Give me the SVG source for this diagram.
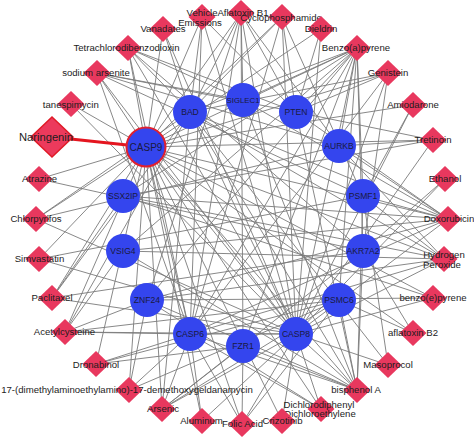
<svg xmlns="http://www.w3.org/2000/svg" xmlns:xlink="http://www.w3.org/1999/xlink" width="474" height="438" viewBox="0 0 474 438">
<style>
.e line{stroke:#7a7a7a;stroke-width:0.9}
.chem{fill:#E8385E}
.gene{fill:#3445EE}
.t{font-family:"Liberation Sans",Arial,sans-serif;font-size:9.6px;fill:#1c1c1c;text-anchor:middle}
.g{font-family:"Liberation Sans",Arial,sans-serif;font-size:8.6px;fill:#1a1a40;text-anchor:middle}
</style>
<defs>
<path id="dia" d="M0,-13L13.5,0L0,13L-13.5,0Z"/>
</defs>
<rect width="474" height="438" fill="#ffffff"/>
<g id="connectors" class="e">
<!-- Vehicle Emissions -->
<line x1="202" y1="17" x2="146" y2="147"/><line x1="202" y1="17" x2="190" y2="112"/><line x1="202" y1="17" x2="296" y2="112"/><line x1="202" y1="17" x2="296" y2="334"/><line x1="202" y1="17" x2="190" y2="334"/>
<!-- Aflatoxin B1 -->
<line x1="241" y1="13" x2="146" y2="147"/><line x1="241" y1="13" x2="190" y2="112"/><line x1="241" y1="13" x2="243" y2="100"/><line x1="241" y1="13" x2="296" y2="112"/><line x1="241" y1="13" x2="339" y2="146"/><line x1="241" y1="13" x2="296" y2="334"/><line x1="241" y1="13" x2="190" y2="334"/><line x1="241" y1="13" x2="147" y2="300"/><line x1="241" y1="13" x2="243" y2="346"/>
<!-- Cyclophosphamide -->
<line x1="282" y1="17" x2="146" y2="147"/><line x1="282" y1="17" x2="190" y2="112"/><line x1="282" y1="17" x2="296" y2="112"/><line x1="282" y1="17" x2="296" y2="334"/><line x1="282" y1="17" x2="363" y2="196"/><line x1="282" y1="17" x2="190" y2="334"/>
<!-- Dieldrin -->
<line x1="321" y1="29" x2="296" y2="112"/><line x1="321" y1="29" x2="146" y2="147"/><line x1="321" y1="29" x2="296" y2="334"/>
<!-- Benzo(a)pyrene -->
<line x1="357" y1="48" x2="146" y2="147"/><line x1="357" y1="48" x2="190" y2="112"/><line x1="357" y1="48" x2="243" y2="100"/><line x1="357" y1="48" x2="296" y2="112"/><line x1="357" y1="48" x2="339" y2="146"/><line x1="357" y1="48" x2="363" y2="196"/><line x1="357" y1="48" x2="363" y2="251"/><line x1="357" y1="48" x2="296" y2="334"/><line x1="357" y1="48" x2="190" y2="334"/><line x1="357" y1="48" x2="123" y2="196"/><line x1="357" y1="48" x2="123" y2="251"/><line x1="357" y1="48" x2="147" y2="300"/><line x1="357" y1="48" x2="339" y2="300"/><line x1="357" y1="48" x2="243" y2="346"/>
<!-- Genistein -->
<line x1="388" y1="73" x2="296" y2="112"/><line x1="388" y1="73" x2="146" y2="147"/><line x1="388" y1="73" x2="296" y2="334"/><line x1="388" y1="73" x2="190" y2="112"/><line x1="388" y1="73" x2="363" y2="251"/><line x1="388" y1="73" x2="190" y2="334"/>
<!-- Amiodarone -->
<line x1="413" y1="105" x2="146" y2="147"/><line x1="413" y1="105" x2="296" y2="334"/><line x1="413" y1="105" x2="363" y2="196"/>
<!-- Tretinoin -->
<line x1="433" y1="140" x2="146" y2="147"/><line x1="433" y1="140" x2="123" y2="196"/><line x1="433" y1="140" x2="296" y2="112"/><line x1="433" y1="140" x2="296" y2="334"/><line x1="433" y1="140" x2="339" y2="146"/>
<!-- Ethanol -->
<line x1="445" y1="179" x2="296" y2="334"/><line x1="445" y1="179" x2="363" y2="251"/>
<!-- Doxorubicin -->
<line x1="448" y1="219" x2="146" y2="147"/><line x1="448" y1="219" x2="339" y2="146"/><line x1="448" y1="219" x2="363" y2="196"/><line x1="448" y1="219" x2="190" y2="112"/><line x1="448" y1="219" x2="243" y2="100"/><line x1="448" y1="219" x2="296" y2="334"/><line x1="448" y1="219" x2="190" y2="334"/><line x1="448" y1="219" x2="147" y2="300"/><line x1="448" y1="219" x2="123" y2="196"/><line x1="448" y1="219" x2="296" y2="112"/><line x1="448" y1="219" x2="123" y2="251"/>
<!-- Hydrogen Peroxide -->
<line x1="444" y1="259" x2="146" y2="147"/><line x1="444" y1="259" x2="190" y2="112"/><line x1="444" y1="259" x2="339" y2="146"/><line x1="444" y1="259" x2="363" y2="196"/><line x1="444" y1="259" x2="296" y2="334"/><line x1="444" y1="259" x2="190" y2="334"/><line x1="444" y1="259" x2="123" y2="251"/><line x1="444" y1="259" x2="147" y2="300"/><line x1="444" y1="259" x2="123" y2="196"/>
<!-- benzo(e)pyrene -->
<line x1="433" y1="298" x2="296" y2="334"/><line x1="433" y1="298" x2="123" y2="196"/><line x1="433" y1="298" x2="146" y2="147"/><line x1="433" y1="298" x2="147" y2="300"/>
<!-- aflatoxin B2 -->
<line x1="413" y1="333" x2="146" y2="147"/><line x1="413" y1="333" x2="339" y2="300"/><line x1="413" y1="333" x2="363" y2="251"/>
<!-- Masoprocol -->
<line x1="388" y1="365" x2="296" y2="334"/><line x1="388" y1="365" x2="190" y2="112"/><line x1="388" y1="365" x2="363" y2="196"/>
<!-- bisphenol A -->
<line x1="357" y1="390" x2="146" y2="147"/><line x1="357" y1="390" x2="296" y2="334"/><line x1="357" y1="390" x2="339" y2="300"/><line x1="357" y1="390" x2="363" y2="251"/><line x1="357" y1="390" x2="243" y2="346"/><line x1="357" y1="390" x2="190" y2="334"/><line x1="357" y1="390" x2="190" y2="112"/><line x1="357" y1="390" x2="296" y2="112"/><line x1="357" y1="390" x2="243" y2="100"/><line x1="357" y1="390" x2="147" y2="300"/><line x1="357" y1="390" x2="123" y2="251"/><line x1="357" y1="390" x2="363" y2="196"/>
<!-- DDE -->
<line x1="321" y1="409" x2="296" y2="334"/><line x1="321" y1="409" x2="190" y2="334"/><line x1="321" y1="409" x2="146" y2="147"/><line x1="321" y1="409" x2="147" y2="300"/>
<!-- Crizotinib -->
<line x1="282" y1="421" x2="296" y2="334"/><line x1="282" y1="421" x2="146" y2="147"/>
<!-- Folic Acid -->
<line x1="242" y1="424" x2="296" y2="334"/><line x1="242" y1="424" x2="190" y2="334"/><line x1="242" y1="424" x2="146" y2="147"/><line x1="242" y1="424" x2="243" y2="346"/><line x1="242" y1="424" x2="339" y2="300"/>
<!-- Aluminum -->
<line x1="202" y1="421" x2="296" y2="334"/><line x1="202" y1="421" x2="190" y2="334"/><line x1="202" y1="421" x2="146" y2="147"/>
<!-- Arsenic -->
<line x1="162" y1="409" x2="296" y2="334"/><line x1="162" y1="409" x2="190" y2="334"/><line x1="162" y1="409" x2="146" y2="147"/><line x1="162" y1="409" x2="190" y2="112"/><line x1="162" y1="409" x2="339" y2="300"/><line x1="162" y1="409" x2="243" y2="346"/><line x1="162" y1="409" x2="363" y2="251"/>
<!-- 17-DMAG -->
<line x1="129" y1="390" x2="190" y2="334"/><line x1="129" y1="390" x2="147" y2="300"/><line x1="129" y1="390" x2="339" y2="300"/><line x1="129" y1="390" x2="146" y2="147"/>
<!-- Dronabinol -->
<line x1="96" y1="364" x2="190" y2="334"/><line x1="96" y1="364" x2="146" y2="147"/><line x1="96" y1="364" x2="243" y2="346"/><line x1="96" y1="364" x2="339" y2="300"/>
<!-- Acetylcysteine -->
<line x1="65" y1="332" x2="146" y2="147"/><line x1="65" y1="332" x2="190" y2="334"/><line x1="65" y1="332" x2="296" y2="334"/><line x1="65" y1="332" x2="190" y2="112"/><line x1="65" y1="332" x2="147" y2="300"/><line x1="65" y1="332" x2="123" y2="251"/><line x1="65" y1="332" x2="339" y2="300"/>
<!-- Paclitaxel -->
<line x1="52" y1="298" x2="146" y2="147"/><line x1="52" y1="298" x2="296" y2="334"/><line x1="52" y1="298" x2="190" y2="112"/><line x1="52" y1="298" x2="363" y2="251"/><line x1="52" y1="298" x2="123" y2="196"/>
<!-- Simvastatin -->
<line x1="39" y1="259" x2="146" y2="147"/><line x1="39" y1="259" x2="296" y2="334"/><line x1="39" y1="259" x2="363" y2="196"/>
<!-- Chlorpyrifos -->
<line x1="36" y1="219" x2="146" y2="147"/><line x1="36" y1="219" x2="190" y2="112"/><line x1="36" y1="219" x2="339" y2="146"/><line x1="36" y1="219" x2="296" y2="334"/>
<!-- Atrazine -->
<line x1="39" y1="179" x2="146" y2="147"/><line x1="39" y1="179" x2="363" y2="251"/>
<!-- tanespimycin -->
<line x1="71" y1="104" x2="146" y2="147"/><line x1="71" y1="104" x2="296" y2="334"/>
<!-- sodium arsenite -->
<line x1="97" y1="73" x2="146" y2="147"/><line x1="97" y1="73" x2="243" y2="100"/><line x1="97" y1="73" x2="296" y2="112"/><line x1="97" y1="73" x2="339" y2="146"/><line x1="97" y1="73" x2="363" y2="196"/><line x1="97" y1="73" x2="296" y2="334"/><line x1="97" y1="73" x2="190" y2="334"/>
<!-- Tetrachlorodibenzodioxin -->
<line x1="128" y1="48" x2="146" y2="147"/><line x1="128" y1="48" x2="190" y2="112"/><line x1="128" y1="48" x2="243" y2="100"/><line x1="128" y1="48" x2="296" y2="112"/><line x1="128" y1="48" x2="296" y2="334"/><line x1="128" y1="48" x2="190" y2="334"/><line x1="128" y1="48" x2="363" y2="251"/>
<!-- Vanadates -->
<line x1="163" y1="29" x2="146" y2="147"/><line x1="163" y1="29" x2="190" y2="112"/><line x1="163" y1="29" x2="296" y2="334"/>
<!-- gene-gene -->
<line x1="146" y1="147" x2="296" y2="334"/><line x1="146" y1="147" x2="190" y2="334"/><line x1="190" y1="334" x2="296" y2="334"/><line x1="190" y1="112" x2="296" y2="334"/>
<!-- Naringenin - CASP9 -->
<line x1="52" y1="137" x2="146" y2="147" style="stroke:#E4151F;stroke-width:3"/>
</g>

<g id="n-vehicle"><use href="#dia" class="chem" transform="translate(202,17)"/><text class="t" x="202" y="13" dy="0.35em">Vehicle</text><text class="t" x="200" y="23" dy="0.35em">Emissions</text></g>
<g id="n-aflatoxinb1"><use href="#dia" class="chem" transform="translate(241,13)"/><text class="t" x="243" y="13" dy="0.35em">Aflatoxin B1</text></g>
<g id="n-cyclophosphamide"><use href="#dia" class="chem" transform="translate(282,17)"/><text class="t" x="281" y="17.5" dy="0.35em">Cyclophosphamide</text></g>
<g id="n-dieldrin"><use href="#dia" class="chem" transform="translate(321,29)"/><text class="t" x="321" y="29" dy="0.35em">Dieldrin</text></g>
<g id="n-benzoapyrene"><use href="#dia" class="chem" transform="translate(357,48)"/><text class="t" x="356" y="48" dy="0.35em">Benzo(a)pyrene</text></g>
<g id="n-genistein"><use href="#dia" class="chem" transform="translate(388,73)"/><text class="t" x="388" y="73" dy="0.35em">Genistein</text></g>
<g id="n-amiodarone"><use href="#dia" class="chem" transform="translate(413,105)"/><text class="t" x="413" y="105" dy="0.35em">Amiodarone</text></g>
<g id="n-tretinoin"><use href="#dia" class="chem" transform="translate(433,140)"/><text class="t" x="433" y="140" dy="0.35em">Tretinoin</text></g>
<g id="n-ethanol"><use href="#dia" class="chem" transform="translate(445,179)"/><text class="t" x="445" y="179" dy="0.35em">Ethanol</text></g>
<g id="n-doxorubicin"><use href="#dia" class="chem" transform="translate(448,219)"/><text class="t" x="449" y="219" dy="0.35em">Doxorubicin</text></g>
<g id="n-hydrogenperoxide"><use href="#dia" class="chem" transform="translate(444,259)"/><text class="t" x="444" y="254.5" dy="0.35em">Hydrogen</text><text class="t" x="442" y="264.5" dy="0.35em">Peroxide</text></g>
<g id="n-benzoepyrene"><use href="#dia" class="chem" transform="translate(433,298)"/><text class="t" x="433" y="298" dy="0.35em">benzo(e)pyrene</text></g>
<g id="n-aflatoxinb2"><use href="#dia" class="chem" transform="translate(413,333)"/><text class="t" x="413" y="333" dy="0.35em">aflatoxin B2</text></g>
<g id="n-masoprocol"><use href="#dia" class="chem" transform="translate(388,365)"/><text class="t" x="388" y="365" dy="0.35em">Masoprocol</text></g>
<g id="n-bisphenola"><use href="#dia" class="chem" transform="translate(357,390)"/><text class="t" x="356" y="390" dy="0.35em">bisphenol A</text></g>
<g id="n-dde"><use href="#dia" class="chem" transform="translate(321,409)"/><text class="t" x="319" y="404.5" dy="0.35em">Dichlorodiphenyl</text><text class="t" x="320" y="414" dy="0.35em">Dichloroethylene</text></g>
<g id="n-crizotinib"><use href="#dia" class="chem" transform="translate(282,421)"/><text class="t" x="282.5" y="421" dy="0.35em">Crizotinib</text></g>
<g id="n-folicacid"><use href="#dia" class="chem" transform="translate(242,424)"/><text class="t" x="242.5" y="424" dy="0.35em">Folic Acid</text></g>
<g id="n-aluminum"><use href="#dia" class="chem" transform="translate(202,421)"/><text class="t" x="201.5" y="421" dy="0.35em">Aluminum</text></g>
<g id="n-arsenic"><use href="#dia" class="chem" transform="translate(162,409)"/><text class="t" x="163" y="409" dy="0.35em">Arsenic</text></g>
<g id="n-17dmag"><use href="#dia" class="chem" transform="translate(129,390)"/><text class="t" x="127" y="390" dy="0.35em">17-(dimethylaminoethylamino)-17-demethoxygeldanamycin</text></g>
<g id="n-dronabinol"><use href="#dia" class="chem" transform="translate(96,364)"/><text class="t" x="96" y="364.5" dy="0.35em">Dronabinol</text></g>
<g id="n-acetylcysteine"><use href="#dia" class="chem" transform="translate(65,332)"/><text class="t" x="64.5" y="332" dy="0.35em">Acetylcysteine</text></g>
<g id="n-paclitaxel"><use href="#dia" class="chem" transform="translate(52,298)"/><text class="t" x="52" y="298" dy="0.35em">Paclitaxel</text></g>
<g id="n-simvastatin"><use href="#dia" class="chem" transform="translate(39,259)"/><text class="t" x="39.5" y="259" dy="0.35em">Simvastatin</text></g>
<g id="n-chlorpyrifos"><use href="#dia" class="chem" transform="translate(36,219)"/><text class="t" x="36" y="219" dy="0.35em">Chlorpyrifos</text></g>
<g id="n-atrazine"><use href="#dia" class="chem" transform="translate(39,179)"/><text class="t" x="39.5" y="179" dy="0.35em">Atrazine</text></g>
<g id="n-tanespimycin"><use href="#dia" class="chem" transform="translate(71,104)"/><text class="t" x="70.8" y="105" dy="0.35em">tanespimycin</text></g>
<g id="n-sodiumarsenite"><use href="#dia" class="chem" transform="translate(97,73)"/><text class="t" x="96" y="73" dy="0.35em">sodium arsenite</text></g>
<g id="n-tcdd"><use href="#dia" class="chem" transform="translate(128,48)"/><text class="t" x="126.5" y="48" dy="0.35em">Tetrachlorodibenzodioxin</text></g>
<g id="n-vanadates"><use href="#dia" class="chem" transform="translate(163,29)"/><text class="t" x="163" y="29" dy="0.35em">Vanadates</text></g>
<g id="n-naringenin"><path d="M52,117L73,137L52,157L31,137Z" fill="#EC3A5C" stroke="#E01A26" stroke-width="1.5"/><text class="t" x="46" y="137" dy="0.35em" style="font-size:11.2px">Naringenin</text></g>

<g id="g-casp9"><circle cx="146" cy="147" r="19.5" class="gene" stroke="#E0202E" stroke-width="2"/><text class="g" x="146" y="147" dy="0.35em" style="font-size:10px">CASP9</text></g>
<g id="g-bad"><circle cx="190" cy="112" r="17" class="gene"/><text class="g" x="190" y="112" dy="0.35em">BAD</text></g>
<g id="g-siglec1"><circle cx="243" cy="100" r="17" class="gene"/><text class="g" x="243" y="100" dy="0.35em" style="font-size:7.8px">SIGLEC1</text></g>
<g id="g-pten"><circle cx="296" cy="112" r="17" class="gene"/><text class="g" x="296" y="112" dy="0.35em">PTEN</text></g>
<g id="g-aurkb"><circle cx="339" cy="146" r="17" class="gene"/><text class="g" x="339" y="146" dy="0.35em">AURKB</text></g>
<g id="g-psmf1"><circle cx="363" cy="196" r="17" class="gene"/><text class="g" x="363" y="196" dy="0.35em">PSMF1</text></g>
<g id="g-akr7a2"><circle cx="363" cy="251" r="17" class="gene"/><text class="g" x="363" y="251" dy="0.35em">AKR7A2</text></g>
<g id="g-psmc6"><circle cx="339" cy="300" r="17" class="gene"/><text class="g" x="339" y="300" dy="0.35em">PSMC6</text></g>
<g id="g-casp8"><circle cx="296" cy="334" r="17" class="gene"/><text class="g" x="296" y="334" dy="0.35em">CASP8</text></g>
<g id="g-fzr1"><circle cx="243" cy="346" r="17" class="gene"/><text class="g" x="243" y="346" dy="0.35em">FZR1</text></g>
<g id="g-casp6"><circle cx="190" cy="334" r="17" class="gene"/><text class="g" x="190" y="334" dy="0.35em">CASP6</text></g>
<g id="g-znf24"><circle cx="147" cy="300" r="17" class="gene"/><text class="g" x="147" y="300" dy="0.35em">ZNF24</text></g>
<g id="g-vsig4"><circle cx="123" cy="251" r="17" class="gene"/><text class="g" x="123" y="251" dy="0.35em">VSIG4</text></g>
<g id="g-ssx2ip"><circle cx="123" cy="196" r="17" class="gene"/><text class="g" x="123" y="196" dy="0.35em">SSX2IP</text></g>
</svg>
